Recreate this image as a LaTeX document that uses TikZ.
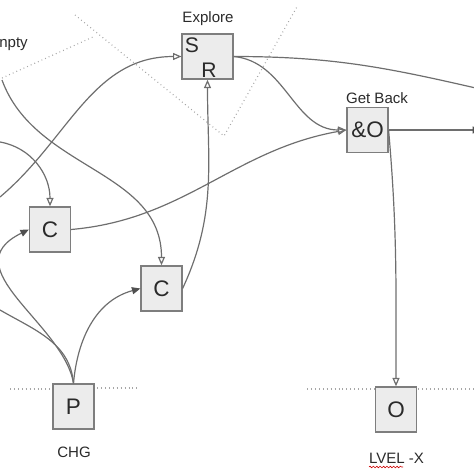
\documentclass[tikz,border=0pt]{standalone}
\usepackage{fontspec}
\setmainfont{Liberation Sans}
\usetikzlibrary{arrows.meta,decorations.pathmorphing}

\definecolor{linegray}{HTML}{6E6E6E}
\definecolor{boxfill}{HTML}{ECECEC}
\definecolor{boxline}{HTML}{7E7E7E}
\definecolor{tipgray}{HTML}{505050}
\definecolor{textgray}{HTML}{2A2A2A}

\tikzset{
  box/.style={draw=boxline, fill=boxfill, line width=1pt, minimum width=29pt, minimum height=32pt, inner sep=0pt, text=textgray, font=\fontsize{16}{18}\selectfont},
  widebox/.style={box, minimum width=36pt},
  letter/.style={inner sep=0pt, anchor=base, text=textgray, font=\fontsize{15}{17}\selectfont},
  lbl/.style={text=textgray, inner sep=0pt, anchor=base, font=\fontsize{10.7}{12}\selectfont},
  wire/.style={draw=linegray, line width=0.85pt},
  opentip/.style={-{Triangle[open,length=6pt,width=5pt]}},
  fulltip/.style={-{Triangle[length=6pt,width=5pt,color=tipgray]}},
  guide/.style={draw=gray!70, line width=0.8pt, dash pattern=on 0.6pt off 2.2pt},
}

\begin{document}
\begin{tikzpicture}[x=0.025cm,y=-0.025cm]
  %\draw[help lines,step=50] (0,0) grid (474,474); %Hilfsgitter fuer Koordinaten
  \useasboundingbox (0,0) rectangle (474,474);

  % dotted guide lines
  \draw[guide] (2,78) -- (93,37);
  \draw[guide] (75,15) -- (224,136) -- (298,5);
  \draw[guide] (10,389) -- (51,389);
  \draw[guide] (97,388) -- (137,388);
  \draw[guide] (307,389) -- (374,389);
  \draw[guide] (418,389) -- (474,389);

  % boxes
  \node[widebox] (SR) at (207.5,56.5) {}; % Explore
  \node[letter]  (S)  at (192,52.5) {S};
  \node[letter]  (R)  at (209,77.5) {R};
  \node[box] (GB) at (367.5,130) {\&O}; % Get Back
  \node[box] (C1) at (50,229.5) {C};
  \node[box] (C2) at (161.5,288.5) {C};
  \node[box] (P)  at (73.5,406.5) {P};
  \node[box] (O)  at (396,409.5) {O};

  % labels
  \node[lbl] (explore) at (208,22) {Explore};
  \node[lbl] (getback) at (377,103) {Get Back};
  \node[lbl] (chg)     at (74,457) {CHG};
  \node[lbl] (lvel)    at (396.5,463) {LVEL -X};
  \node[lbl,anchor=base east] (empty) at (28,47) {npty};
  \draw[red!80!black, line width=0.4pt, decorate, decoration={snake,amplitude=0.6pt,segment length=2.4pt}] (369,467) -- (403,467); % spell mark

  % loose ends at the border
  \coordinate (inA)   at (2,80);
  \coordinate (inB)   at (0,142);
  \coordinate (inC)   at (0,197);
  \coordinate (outP)  at (0,310);
  \coordinate (outSR) at (480,89);
  \coordinate (outGB) at (481,130);

  % connectors
  \draw[wire] (SR.east) to[out=0,in=167] (outSR);
  \draw[wire,opentip] (SR.east) to[out=-5,in=180] (GB.west);
  \draw[wire,opentip] (C1.east) to[out=5,in=190] (GB.west);
  \draw[wire,opentip] (inC) to[out=40,in=180] (SR.west);
  \draw[wire,opentip] (inB) to[out=-10,in=90] (C1.north);
  \draw[wire,opentip] (inA) to[out=-70,in=90] (C2.north);
  \draw[wire,opentip] (C2.east) to[out=65,in=-90] (SR.south);
  \draw[wire,fulltip] (P.north) to[out=85,in=195] (C2.west);
  \draw[wire,fulltip] (P.north) .. controls +(-10,-60) and +(-78,38) .. (C1.west);
  \draw[wire] (P.north) to[out=95,in=-30] (outP);
  \draw[wire,fulltip] (GB.east) -- (outGB);
  \draw[wire,opentip] (GB.east) to[out=-85,in=90] (O.north);

\end{tikzpicture}
\end{document}
